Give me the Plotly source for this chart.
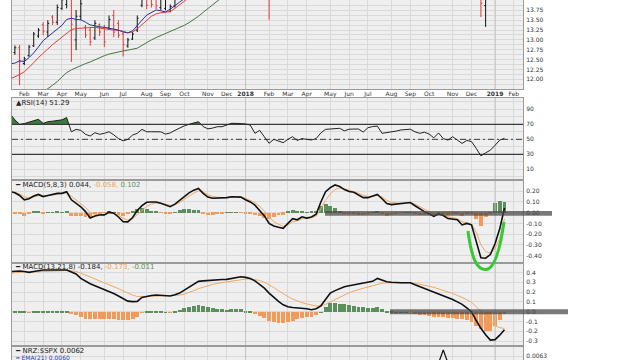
import numpy as np
import pandas as pd
import plotly.graph_objects as go

# ---------------- data (weekly bars, Monday-dated) ----------------
weeks = pd.date_range("2017-01-09", periods=107, freq="W-MON")

bar_open = [12.50, 12.65, 12.68, 12.80, 12.40, 12.60, 12.85, 13.10, 13.38, 13.20, 13.58, 13.45,
            13.80, 13.90, 14.08, 13.00, 13.60, 13.32, 13.25, 13.05, 13.38, 13.30, 13.30, 13.62,
            13.42, 13.15, 12.85, 13.02, 13.25, 13.88, 14.05, 14.06, 14.05, 13.82, 13.80, 13.72, 13.86, 14.08,
            14.30, 14.50, 14.65, 14.85, 15.00, 14.70, 14.60, 14.80, 14.85, 14.90, 15.05, 15.15, 15.20, 15.25, 15.10, 14.90, 14.50, 14.70,
            14.25, 14.10, 14.50, 14.35, 14.20, 14.50, 14.60, 14.40, 14.60, 14.45, 14.50, 14.75, 15.15, 15.45, 15.50, 15.55, 15.45, 15.35,
            15.55, 15.50, 15.45, 15.30, 15.65, 15.75, 15.85, 15.50, 15.55, 15.60, 15.75, 15.85, 15.95, 15.90, 15.70, 15.60, 15.65, 15.50,
            15.30, 15.55, 15.25, 15.10, 15.35, 15.15, 14.90, 15.10, 14.95, 14.60, 13.87, 14.20, 14.60, 15.00, 15.20]
bar_high = [12.75, 12.90, 12.86, 12.87, 12.57, 12.87, 13.20, 13.30, 13.45, 13.50, 13.63, 13.90,
            14.10, 14.20, 14.20, 13.76, 14.05, 13.38, 13.30, 13.50, 13.42, 13.38, 13.62, 13.76,
            13.50, 13.20, 13.05, 13.20, 13.62, 14.10, 14.12, 14.15, 14.10, 14.20, 14.15, 13.90, 14.10, 14.35,
            14.55, 14.70, 14.90, 15.10, 15.05, 14.85, 14.90, 14.95, 15.00, 15.15, 15.25, 15.30, 15.35, 15.40, 15.20, 15.00, 14.80, 14.75,
            14.40, 14.60, 14.60, 14.45, 14.60, 14.70, 14.65, 14.70, 14.65, 14.60, 14.80, 15.20, 15.50, 15.60, 15.65, 15.60, 15.55, 15.60,
            15.65, 15.60, 15.50, 15.70, 15.80, 15.90, 15.90, 15.65, 15.70, 15.80, 15.90, 16.00, 16.05, 15.95, 15.80, 15.75, 15.70, 15.55,
            15.60, 15.60, 15.35, 15.40, 15.45, 15.20, 15.20, 15.15, 15.00, 14.70, 14.30, 14.70, 15.10, 15.30, 15.40]
bar_low = [12.35, 12.55, 12.62, 11.85, 12.36, 12.57, 12.82, 13.05, 13.12, 13.07, 13.38, 13.38,
           13.76, 13.80, 12.44, 12.74, 13.50, 13.05, 12.85, 13.00, 13.10, 12.82, 13.25, 13.07,
           13.05, 12.58, 12.80, 13.00, 13.20, 13.83, 13.78, 13.82, 13.78, 13.75, 13.75, 13.70, 13.82, 14.05,
           14.20, 14.40, 14.55, 14.75, 14.60, 14.45, 14.50, 14.60, 14.70, 14.80, 14.95, 15.00, 15.05, 15.00, 14.80, 14.40, 14.30, 14.10,
           13.51, 14.05, 14.20, 14.10, 14.15, 14.35, 14.30, 14.35, 14.35, 14.30, 14.45, 14.70, 15.10, 15.30, 15.35, 15.35, 15.25, 15.30,
           15.40, 15.35, 15.20, 15.25, 15.55, 15.65, 15.40, 15.40, 15.45, 15.50, 15.65, 15.75, 15.80, 15.60, 15.50, 15.45, 15.40, 15.20,
           15.20, 15.20, 15.00, 15.00, 15.05, 14.80, 14.85, 14.80, 14.45, 13.58, 13.33, 14.10, 14.55, 14.90, 15.10]
bar_close = [12.65, 12.70, 12.80, 12.45, 12.52, 12.82, 13.15, 13.25, 13.22, 13.42, 13.45, 13.82,
             14.02, 14.10, 13.40, 13.60, 13.92, 13.12, 12.95, 13.42, 13.20, 12.95, 13.52, 13.20,
             13.12, 12.88, 13.00, 13.15, 13.55, 14.05, 13.88, 13.90, 13.86, 14.10, 14.05, 13.85, 14.05, 14.30,
             14.50, 14.65, 14.85, 15.00, 14.70, 14.60, 14.80, 14.85, 14.90, 15.05, 15.15, 15.20, 15.25, 15.10, 14.90, 14.50, 14.70, 14.25,
             14.10, 14.50, 14.35, 14.20, 14.50, 14.60, 14.40, 14.60, 14.45, 14.50, 14.75, 15.15, 15.45, 15.50, 15.55, 15.45, 15.35, 15.55,
             15.50, 15.45, 15.30, 15.65, 15.75, 15.85, 15.50, 15.55, 15.60, 15.75, 15.85, 15.95, 15.90, 15.70, 15.60, 15.65, 15.50, 15.30,
             15.55, 15.25, 15.10, 15.35, 15.15, 14.90, 15.10, 14.95, 14.60, 13.93, 14.20, 14.60, 15.00, 15.20, 15.30]
ema_fast = [12.38, 12.40, 12.41, 12.47, 12.45, 12.55, 12.67, 12.82, 12.98, 13.08, 13.17, 13.27,
            13.37, 13.52, 13.55, 13.52, 13.51, 13.45, 13.38, 13.36, 13.33, 13.32, 13.30, 13.28,
            13.25, 13.20, 13.18, 13.23, 13.38, 13.50, 13.63, 13.70, 13.76, 13.74, 13.71, 13.78, 13.86, 13.96,
            14.05, 14.15, 14.30, 14.42, 14.50, 14.55, 14.60, 14.65, 14.70, 14.78, 14.88, 14.98, 15.05, 15.07, 15.03, 14.92, 14.82, 14.70,
            14.55, 14.50, 14.45, 14.40, 14.40, 14.45, 14.45, 14.48, 14.50, 14.50, 14.56, 14.70, 14.90, 15.10, 15.25, 15.35, 15.38, 15.42,
            15.45, 15.46, 15.42, 15.48, 15.58, 15.66, 15.64, 15.60, 15.58, 15.62, 15.68, 15.76, 15.82, 15.82, 15.76, 15.70, 15.64, 15.54,
            15.52, 15.45, 15.35, 15.33, 15.28, 15.18, 15.15, 15.10, 14.95, 14.65, 14.48, 14.50, 14.62, 14.78, 14.92]
ema_slow = [11.95, 12.00, 12.06, 12.12, 12.19, 12.30, 12.42, 12.55, 12.65, 12.77, 12.88, 12.97,
            13.07, 13.17, 13.26, 13.29, 13.30, 13.31, 13.32, 13.32, 13.30, 13.28, 13.26, 13.25,
            13.24, 13.22, 13.18, 13.20, 13.28, 13.38, 13.50, 13.60, 13.66, 13.69, 13.70, 13.72, 13.80, 13.90,
            14.00, 14.08, 14.18, 14.30, 14.38, 14.44, 14.49, 14.54, 14.59, 14.65, 14.72, 14.80, 14.87, 14.92, 14.93, 14.88, 14.81, 14.73,
            14.62, 14.57, 14.52, 14.47, 14.44, 14.45, 14.45, 14.47, 14.48, 14.49, 14.53, 14.63, 14.78, 14.95, 15.10, 15.21, 15.27, 15.33,
            15.37, 15.40, 15.39, 15.43, 15.50, 15.58, 15.59, 15.58, 15.58, 15.60, 15.65, 15.71, 15.76, 15.78, 15.75, 15.71, 15.66, 15.58,
            15.55, 15.49, 15.41, 15.38, 15.33, 15.25, 15.21, 15.16, 15.04, 14.80, 14.62, 14.58, 14.64, 14.75, 14.86]
sma_long = [11.20, 11.28, 11.35, 11.42, 11.48, 11.54, 11.60, 11.66, 11.71, 11.76, 11.85, 11.94,
            12.06, 12.17, 12.24, 12.30, 12.35, 12.40, 12.44, 12.50, 12.55, 12.60, 12.64, 12.67,
            12.70, 12.72, 12.74, 12.76, 12.79, 12.86, 12.94, 13.00, 13.06, 13.11, 13.15, 13.20, 13.26, 13.31,
            13.37, 13.44, 13.51, 13.60, 13.70, 13.80, 13.89, 13.98, 14.08, 14.15, 14.22, 14.28, 14.34, 14.40, 14.45, 14.48, 14.50, 14.52,
            14.53, 14.54, 14.55, 14.56, 14.57, 14.58, 14.59, 14.60, 14.61, 14.62, 14.64, 14.66, 14.69, 14.72, 14.76, 14.80, 14.84, 14.88,
            14.92, 14.96, 15.00, 15.04, 15.08, 15.12, 15.16, 15.20, 15.24, 15.28, 15.32, 15.36, 15.40, 15.43, 15.46, 15.48, 15.50, 15.52,
            15.53, 15.54, 15.54, 15.54, 15.53, 15.52, 15.50, 15.48, 15.45, 15.40, 15.36, 15.33, 15.31, 15.30, 15.29]
rsi14 = [82, 84, 76, 70, 71, 73, 75.7, 76.7, 71.3, 73.5, 74.2, 75,
         76, 79, 60, 63.3, 62, 56.7, 54.4, 58.8, 56.7, 58, 60.1, 56,
         51, 48, 50, 55.7, 58, 63.3, 60.1, 60.1, 60.1, 60, 57, 58.5, 62, 65.5,
         68, 70, 72, 73.5, 67, 64, 65, 66.8, 66.8, 69.5, 71.3, 71.3, 71.3, 70.5, 69, 58, 62, 53,
         44.7, 50, 48.1, 45.5, 50, 53.5, 48.5, 51, 50, 49.1, 51, 58.5, 63.3, 64.1, 64.5, 64.7, 61.3, 63.5,
         63.7, 63.7, 59.7, 65.5, 67, 67.7, 58, 58.7, 59.3, 61, 62.5, 63.5, 63.5, 60, 58, 59.5, 57, 52,
         58.5, 51, 49, 53.5, 49, 44.5, 48.5, 47, 38, 28, 32, 35.5, 42, 49, 51.29]
macd_fast = [0.21, 0.20, 0.185, 0.16, 0.12, 0.13, 0.155, 0.17, 0.15, 0.16, 0.168, 0.18,
             0.18, 0.195, 0.12, 0.085, 0.055, 0.01, -0.05, -0.03, -0.021, -0.02, 0.005, -0.005,
             -0.04, -0.084, -0.085, -0.045, 0.02, 0.065, 0.097, 0.10, 0.10, 0.088, 0.07, 0.056, 0.08, 0.115,
             0.155, 0.185, 0.21, 0.225, 0.18, 0.145, 0.134, 0.134, 0.134, 0.14, 0.149, 0.149, 0.145, 0.12, 0.10, 0.07, 0.025, -0.03,
             -0.10, -0.123, -0.135, -0.145, -0.10, -0.055, -0.066, -0.038, -0.05, -0.04, -0.015, 0.10, 0.195, 0.233, 0.258, 0.243, 0.215, 0.197,
             0.19, 0.165, 0.14, 0.14, 0.155, 0.17, 0.13, 0.085, 0.075, 0.08, 0.086, 0.096, 0.095, 0.065, 0.035, 0.01, -0.01, -0.035,
             -0.01, -0.027, -0.055, -0.06, -0.065, -0.114, -0.10, -0.113, -0.26, -0.42, -0.424, -0.39, -0.29, -0.15, 0.044]
macd_fast_signal = [0.20, 0.20, 0.19, 0.175, 0.148, 0.139, 0.147, 0.158, 0.154, 0.157, 0.163, 0.171,
                    0.176, 0.185, 0.153, 0.119, 0.087, 0.048, 0.0, -0.015, -0.018, -0.019, -0.007, -0.006,
                    -0.023, -0.053, -0.069, -0.057, -0.019, 0.023, 0.06, 0.08, 0.09, 0.089, 0.08, 0.068, 0.074, 0.094,
                    0.125, 0.155, 0.182, 0.204, 0.192, 0.168, 0.151, 0.143, 0.138, 0.139, 0.144, 0.147, 0.146, 0.133, 0.116, 0.093, 0.059, 0.015,
                    -0.043, -0.083, -0.109, -0.127, -0.113, -0.084, -0.075, -0.057, -0.053, -0.047, -0.031, 0.035, 0.115, 0.174, 0.216, 0.23, 0.222, 0.21,
                    0.20, 0.182, 0.161, 0.151, 0.153, 0.161, 0.146, 0.115, 0.095, 0.088, 0.087, 0.091, 0.093, 0.079, 0.057, 0.034, 0.012, -0.012,
                    -0.011, -0.019, -0.037, -0.048, -0.057, -0.085, -0.093, -0.103, -0.181, -0.30, -0.362, -0.376, -0.333, -0.242, -0.058]
macd_fast_hist = [0.01, 0.0, -0.005, -0.015, -0.028, -0.009, 0.008, 0.012, -0.004, 0.003, 0.005, 0.009,
                  0.004, 0.01, -0.033, -0.034, -0.032, -0.038, -0.05, -0.015, -0.003, -0.001, 0.012, 0.001,
                  -0.017, -0.031, -0.016, 0.012, 0.039, 0.042, 0.037, 0.02, 0.01, -0.001, -0.01, -0.012, 0.006, 0.021,
                  0.03, 0.03, 0.028, 0.021, -0.012, -0.023, -0.017, -0.009, -0.004, 0.001, 0.005, 0.002, -0.001, -0.013, -0.016, -0.023, -0.034, -0.045,
                  -0.057, -0.04, -0.026, -0.018, 0.013, 0.029, 0.009, 0.019, 0.003, 0.007, 0.016, 0.065, 0.08, 0.059, 0.042, 0.013, -0.007, -0.013,
                  -0.01, -0.017, -0.021, -0.011, 0.002, 0.009, -0.016, -0.03, -0.02, -0.008, -0.001, 0.005, 0.002, -0.014, -0.022, -0.024, -0.022, -0.023,
                  0.001, -0.008, -0.018, -0.012, -0.008, -0.029, -0.007, -0.01, -0.06, -0.12, -0.04, -0.014, 0.087, 0.109, 0.102]
macd_slow = [0.405, 0.408, 0.41, 0.415, 0.41, 0.402, 0.41, 0.42, 0.425, 0.425, 0.425, 0.425,
             0.425, 0.425, 0.405, 0.385, 0.34, 0.31, 0.285, 0.265, 0.245, 0.23, 0.21, 0.185,
             0.16, 0.13, 0.108, 0.103, 0.105, 0.145, 0.158, 0.165, 0.17, 0.168, 0.163, 0.16, 0.172, 0.19,
             0.22, 0.25, 0.28, 0.31, 0.315, 0.32, 0.323, 0.325, 0.328, 0.33, 0.34, 0.35, 0.357, 0.35, 0.338, 0.315, 0.28, 0.24,
             0.19, 0.145, 0.105, 0.07, 0.05, 0.042, 0.04, 0.036, 0.03, 0.02, 0.03, 0.06, 0.13, 0.19, 0.215, 0.238, 0.255, 0.265,
             0.273, 0.282, 0.29, 0.295, 0.31, 0.34, 0.325, 0.306, 0.30, 0.296, 0.296, 0.296, 0.295, 0.275, 0.256, 0.24, 0.22, 0.203,
             0.185, 0.165, 0.148, 0.125, 0.10, 0.075, 0.04, 0.0, -0.09, -0.17, -0.235, -0.29, -0.285, -0.24, -0.184]
macd_slow_signal = [0.39, 0.395, 0.398, 0.402, 0.404, 0.403, 0.405, 0.408, 0.412, 0.415, 0.417, 0.419,
                    0.42, 0.421, 0.417, 0.41, 0.394, 0.375, 0.355, 0.335, 0.315, 0.296, 0.277, 0.256,
                    0.235, 0.212, 0.189, 0.17, 0.155, 0.153, 0.154, 0.156, 0.159, 0.161, 0.161, 0.161, 0.163, 0.169,
                    0.18, 0.195, 0.214, 0.235, 0.252, 0.267, 0.279, 0.289, 0.297, 0.304, 0.312, 0.32, 0.328, 0.333, 0.334, 0.33, 0.319, 0.301,
                    0.276, 0.246, 0.215, 0.183, 0.154, 0.129, 0.109, 0.093, 0.079, 0.066, 0.058, 0.058, 0.074, 0.10, 0.125, 0.15, 0.173, 0.193,
                    0.211, 0.227, 0.241, 0.253, 0.265, 0.282, 0.291, 0.294, 0.295, 0.295, 0.295, 0.295, 0.295, 0.29, 0.282, 0.272, 0.26, 0.248,
                    0.234, 0.219, 0.203, 0.186, 0.167, 0.147, 0.123, 0.096, 0.055, 0.005, -0.048, -0.10, -0.14, -0.162, -0.173]
macd_slow_hist = [0.015, 0.013, 0.012, 0.013, 0.006, -0.001, 0.005, 0.012, 0.013, 0.01, 0.008, 0.006,
                  0.005, 0.004, -0.012, -0.025, -0.054, -0.065, -0.07, -0.07, -0.07, -0.066, -0.067, -0.071,
                  -0.075, -0.082, -0.081, -0.067, -0.05, -0.008, 0.004, 0.009, 0.011, 0.007, 0.002, -0.001, 0.009, 0.021,
                  0.04, 0.055, 0.066, 0.075, 0.063, 0.053, 0.044, 0.036, 0.031, 0.026, 0.028, 0.03, 0.029, 0.017, 0.004, -0.015, -0.039, -0.061,
                  -0.086, -0.101, -0.11, -0.113, -0.104, -0.087, -0.069, -0.057, -0.049, -0.046, -0.028, 0.002, 0.056, 0.09, 0.09, 0.088, 0.082, 0.072,
                  0.062, 0.055, 0.049, 0.042, 0.045, 0.058, 0.034, 0.012, 0.005, 0.001, 0.001, 0.001, 0.0, -0.015, -0.026, -0.032, -0.04, -0.045,
                  -0.049, -0.054, -0.055, -0.061, -0.067, -0.072, -0.083, -0.096, -0.145, -0.175, -0.187, -0.19, -0.145, -0.078, -0.011]
ratio_spx = [0.00585, 0.00588, 0.00590, 0.00586, 0.00592, 0.00595, 0.00598, 0.00600, 0.00597, 0.00601, 0.00599, 0.00602,
             0.00605, 0.00606, 0.00598, 0.00600, 0.00603, 0.00596, 0.00592, 0.00595, 0.00593, 0.00590, 0.00594, 0.00591,
             0.00588, 0.00586, 0.00582, 0.00585, 0.00588, 0.00591, 0.00589, 0.00587, 0.00590, 0.00588, 0.00585, 0.00586, 0.00589, 0.00590,
             0.00588, 0.00587, 0.00590, 0.00592, 0.00589, 0.00585, 0.00587, 0.00588, 0.00586, 0.00590, 0.00588, 0.00585, 0.00583, 0.00575,
             0.00568, 0.00572, 0.00580, 0.00585, 0.00592, 0.00590, 0.00588, 0.00594, 0.00598, 0.00596, 0.00595, 0.00599, 0.00597, 0.00602,
             0.00600, 0.00598, 0.00596, 0.00599, 0.00601, 0.00603, 0.00600,
             0.00602, 0.00600, 0.00598, 0.00595, 0.00597, 0.00594, 0.00596, 0.00598, 0.00600, 0.00596, 0.00593, 0.00590, 0.00588,
             0.00592, 0.00598, 0.00604, 0.00610, 0.00615, 0.00612, 0.00623, 0.00636, 0.00623, 0.00612, 0.00605, 0.00610, 0.00606,
             0.00612, 0.00608, 0.00611, 0.00607, 0.00604, 0.00610, 0.00616, 0.00620]
ratio_ema21 = [0.00586, 0.00587, 0.00588, 0.00588, 0.00589, 0.00590, 0.00591, 0.00592, 0.00593, 0.00594, 0.00595, 0.00596,
               0.00597, 0.00598, 0.00598, 0.00598, 0.00598, 0.00598, 0.00597, 0.00597, 0.00596, 0.00596, 0.00595, 0.00595,
               0.00594, 0.00593, 0.00592, 0.00591, 0.00591, 0.00590, 0.00590, 0.00590, 0.00590, 0.00589, 0.00589, 0.00589, 0.00589, 0.00589,
               0.00589, 0.00589, 0.00589, 0.00589, 0.00589, 0.00589, 0.00588, 0.00588, 0.00588, 0.00588, 0.00588, 0.00588, 0.00587, 0.00586,
               0.00584, 0.00583, 0.00583, 0.00583, 0.00584, 0.00584, 0.00585, 0.00586, 0.00587, 0.00588, 0.00589, 0.00590, 0.00590, 0.00591,
               0.00592, 0.00592, 0.00593, 0.00593, 0.00594, 0.00595, 0.00595,
               0.00596, 0.00596, 0.00596, 0.00596, 0.00596, 0.00596, 0.00596, 0.00596, 0.00596, 0.00596, 0.00596, 0.00595, 0.00595,
               0.00595, 0.00595, 0.00596, 0.00597, 0.00598, 0.00599, 0.00601, 0.00604, 0.00605, 0.00605, 0.00605, 0.00605, 0.00605,
               0.00606, 0.00606, 0.00606, 0.00606, 0.00605, 0.00605, 0.00606, 0.00604]

month_ticks = ["2017-02-06", "2017-03-06", "2017-04-03", "2017-05-01", "2017-06-05", "2017-07-03",
               "2017-08-07", "2017-09-04", "2017-10-02", "2017-11-06", "2017-12-04", "2018-01-01",
               "2018-02-05", "2018-03-05", "2018-04-02", "2018-05-07", "2018-06-04", "2018-07-02",
               "2018-08-06", "2018-09-03", "2018-10-01", "2018-11-05", "2018-12-03", "2019-01-07", "2019-02-04"]
month_labels = ["Feb", "Mar", "Apr", "May", "Jun", "Jul", "Aug", "Sep", "Oct", "Nov", "Dec", "<b>2018</b>",
                "Feb", "Mar", "Apr", "May", "Jun", "Jul", "Aug", "Sep", "Oct", "Nov", "Dec", "<b>2019</b>", "Feb"]
year_ticks = ["2018-01-01", "2019-01-07"]
price_ticks = [12.00, 12.25, 12.50, 12.75, 13.00, 13.25, 13.50, 13.75, 14.00]
price_labels = ["12.00", "12.25", "12.50", "12.75", "13.00", "13.25", "13.50", "13.75", "14.00"]
rsi_ticks = [10, 30, 50, 70, 90]
rsi_levels = [30, 50, 70]
macd_fast_ticks = [0.2, 0.1, 0.0, -0.1, -0.2, -0.3, -0.4]
macd_fast_labels = ["0.20", "0.10", "0.00", "-0.10", "-0.20", "-0.30", "-0.40"]
macd_slow_ticks = [0.4, 0.3, 0.2, 0.1, 0.0, -0.1, -0.2, -0.3]
macd_slow_labels = ["0.4", "0.3", "0.2", "0.1", "0.0", "-0.1", "-0.2", "-0.3"]
ratio_ticks = [0.0063]
ratio_labels = ["0.0063"]

for arr in [bar_open, bar_high, bar_low, bar_close, ema_fast, ema_slow, sma_long, rsi14, macd_fast,
            macd_fast_signal, macd_fast_hist, macd_slow, macd_slow_signal, macd_slow_hist, ratio_spx, ratio_ema21]:
    assert len(arr) == len(weeks), len(arr)

# ---------------- styling ----------------
W, H = 640, 360
FONT = "DejaVu Sans"
BG = "#efefef"
GRID = "#d9d9d9"
BORDER = "#9a9a9a"
TXT = "#333333"
UP, DOWN = "#111111", "#e23b3b"
HIST_UP, HIST_DN = "#5b8f5b", "#f29a5a"
SIG = "#f0a864"


def fx(p):
    return p / W


def fy(p):
    return 1 - p / H


x_dom = [fx(12), fx(523)]
x_range = ["2017-01-18 17:00", "2019-02-17 14:00"]
panels = [(0, 89), (98, 179), (181, 262), (263.5, 345), (347, 360)]
ranges = [[11.754, 14.013], [-2.9, 105.1], [-0.459, 0.295], [-0.340, 0.492], [0.00626, 0.00639]]
axis_ids = ["", "2", "3", "4", "5"]

fig = go.Figure()

# darker year separators in every panel (drawn first, under the data)
for k, sx in enumerate(axis_ids):
    for d in year_ticks:
        fig.add_trace(go.Scatter(x=[d, d], y=ranges[k], mode="lines", line=dict(color="#c4c4c4", width=1),
                                 xaxis="x" + sx, yaxis="y" + sx, hoverinfo="skip"))

# price panel
fig.add_trace(go.Ohlc(x=weeks, open=bar_open, high=bar_high, low=bar_low, close=bar_close,
                      increasing=dict(line=dict(color=UP, width=1)),
                      decreasing=dict(line=dict(color=DOWN, width=1)),
                      tickwidth=0.3, xaxis="x", yaxis="y", hoverinfo="skip"))
fig.add_trace(go.Scatter(x=weeks, y=sma_long, mode="lines", line=dict(color="#4a714a", width=1), xaxis="x", yaxis="y"))
fig.add_trace(go.Scatter(x=weeks, y=ema_slow, mode="lines", line=dict(color="#e23b3b", width=1), xaxis="x", yaxis="y"))
fig.add_trace(go.Scatter(x=weeks, y=ema_fast, mode="lines", line=dict(color="#26339a", width=1), xaxis="x", yaxis="y"))

# RSI panel: shade the part above 70
rsi = np.array(rsi14, dtype=float)
t = weeks.values.astype("datetime64[ns]").astype("int64").astype(float)
fill_t, fill_y = [], []
for i in range(len(rsi)):
    if i > 0 and (rsi[i - 1] - 70) * (rsi[i] - 70) < 0:
        f = (70 - rsi[i - 1]) / (rsi[i] - rsi[i - 1])
        fill_t.append(t[i - 1] + f * (t[i] - t[i - 1]))
        fill_y.append(70)
    fill_t.append(t[i])
    fill_y.append(max(rsi[i], 70))
fill_x = pd.to_datetime(np.array(fill_t).astype("int64"))
fig.add_trace(go.Scatter(x=fill_x, y=[70] * len(fill_x), mode="lines", line=dict(width=0), xaxis="x2", yaxis="y2"))
fig.add_trace(go.Scatter(x=fill_x, y=fill_y, mode="lines", line=dict(width=0), fill="tonexty",
                         fillcolor="#3d7a3d", xaxis="x2", yaxis="y2"))
for lv in rsi_levels:
    fig.add_trace(go.Scatter(x=x_range, y=[lv, lv], mode="lines",
                             line=dict(color="#3a3a3a", width=1.2 if lv != 50 else 1,
                                       dash="6px,3px,2px,3px" if lv == 50 else "solid"),
                             xaxis="x2", yaxis="y2", hoverinfo="skip"))
fig.add_trace(go.Scatter(x=weeks, y=rsi14, mode="lines", line=dict(color="#222222", width=1), xaxis="x2", yaxis="y2"))

BAR_W = 7 * 24 * 3600 * 1000 * 0.82

# MACD(5,8,3)
fig.add_trace(go.Bar(x=weeks, y=macd_fast_hist, width=BAR_W,
                     marker=dict(color=[HIST_UP if v >= 0 else HIST_DN for v in macd_fast_hist], line=dict(width=0)),
                     xaxis="x3", yaxis="y3"))
fig.add_trace(go.Scatter(x=weeks, y=macd_fast_signal, mode="lines", line=dict(color=SIG, width=1), xaxis="x3", yaxis="y3"))
fig.add_trace(go.Scatter(x=weeks, y=macd_fast, mode="lines", line=dict(color="#111111", width=1.6), xaxis="x3", yaxis="y3"))

# MACD(13,21,8)
fig.add_trace(go.Bar(x=weeks, y=macd_slow_hist, width=BAR_W,
                     marker=dict(color=[HIST_UP if v >= 0 else HIST_DN for v in macd_slow_hist], line=dict(width=0)),
                     xaxis="x4", yaxis="y4"))
fig.add_trace(go.Scatter(x=weeks, y=macd_slow_signal, mode="lines", line=dict(color=SIG, width=1), xaxis="x4", yaxis="y4"))
fig.add_trace(go.Scatter(x=weeks, y=macd_slow, mode="lines", line=dict(color="#111111", width=1.6), xaxis="x4", yaxis="y4"))

# NRZ:$SPX ratio
fig.add_trace(go.Scatter(x=weeks, y=ratio_ema21, mode="lines", line=dict(color="#2a3fb0", width=1), xaxis="x5", yaxis="y5"))
fig.add_trace(go.Scatter(x=weeks, y=ratio_spx, mode="lines", line=dict(color="#111111", width=1.2), xaxis="x5", yaxis="y5"))

# ---------------- axes ----------------
tickfont = dict(family=FONT, size=6, color=TXT)
common_x = dict(type="date", range=x_range, domain=x_dom, tickvals=month_ticks, ticktext=month_labels,
                showgrid=True, gridcolor=GRID, gridwidth=1, zeroline=False, showline=True,
                linecolor=BORDER, linewidth=1, ticks="", tickfont=tickfont)
ytv = [(price_ticks, price_labels), (rsi_ticks, [str(v) for v in rsi_ticks]),
       (macd_fast_ticks, macd_fast_labels), (macd_slow_ticks, macd_slow_labels), (ratio_ticks, ratio_labels)]
minor_grid = [dict(dtick=0.125, showgrid=True, gridcolor=GRID), dict(dtick=10, showgrid=True, gridcolor=GRID),
              dict(dtick=0.05, showgrid=False), dict(dtick=0.05, showgrid=False), dict(showgrid=False)]

layout_axes = {}
for k, sx in enumerate(axis_ids):
    xa = dict(common_x, anchor="y" + sx)
    if k == 0:
        xa.update(showticklabels=True, rangeslider=dict(visible=False), mirror=False, ticklabelstandoff=-1)
    else:
        xa.update(showticklabels=False, matches="x", mirror=True, rangeslider=dict(visible=False))
    layout_axes["xaxis" + sx] = xa
    top, bot = panels[k]
    tv, tt = ytv[k]
    layout_axes["yaxis" + sx] = dict(domain=[fy(bot), fy(top)], range=ranges[k], side="right", anchor="x" + sx,
                                     tickvals=tv, ticktext=tt, showgrid=True, gridcolor=GRID, zeroline=False,
                                     showline=True, mirror=True, linecolor=BORDER, linewidth=1, ticks="",
                                     tickfont=tickfont, ticklabelstandoff=1, minor=minor_grid[k])

shapes = []
# hand-drawn highlight bars on the zero lines
shapes.append(dict(type="rect", xref="paper", yref="paper", x0=fx(325), x1=fx(552), y0=fy(215.8), y1=fy(211),
                   fillcolor="rgba(70,70,70,0.72)", line=dict(width=0), layer="above"))
shapes.append(dict(type="rect", xref="paper", yref="paper", x0=fx(390), x1=fx(568), y0=fy(314.3), y1=fy(309.3),
                   fillcolor="rgba(70,70,70,0.72)", line=dict(width=0), layer="above"))
# hand-drawn green U
u_pts = [(468, 231), (472, 262), (478, 270), (486, 269.5), (494, 269), (500, 250), (504, 222)]
p = [(fx(a), fy(b)) for a, b in u_pts]
u_path = "M {:.5f},{:.5f} C {:.5f},{:.5f} {:.5f},{:.5f} {:.5f},{:.5f} C {:.5f},{:.5f} {:.5f},{:.5f} {:.5f},{:.5f}".format(
    *[c for pt in p for c in pt])
shapes.append(dict(type="path", xref="paper", yref="paper", path=u_path, line=dict(color="#36c936", width=3),
                   layer="above"))

lab = dict(family=FONT, size=7, color="#222222")
annotations = [
    dict(x=fx(14), y=fy(103.5), text="\u25b2RSI(14) 51.29"),
    dict(x=fx(13), y=fy(185), text="\u2501 MACD(5,8,3) 0.044, <span style='color:#f0a050'>-0.058,</span> "
                                   "<span style='color:#5b8f5b'>0.102</span>"),
    dict(x=fx(13), y=fy(267), text="\u2501 MACD(13,21,8) -0.184, <span style='color:#f0a050'>-0.173,</span> "
                                   "<span style='color:#5b8f5b'>-0.011</span>"),
    dict(x=fx(13), y=fy(350.5), text="\u2501 NRZ:$SPX 0.0062"),
    dict(x=fx(13), y=fy(357.5), text="<span style='color:#2a3fb0'>\u2501 EMA(21) 0.0060</span>",
         font=dict(family=FONT, size=6, color="#2a3fb0")),
]
for a in annotations:
    a.setdefault("font", lab)
    a.update(xref="paper", yref="paper", xanchor="left", yanchor="middle", showarrow=False)

fig.update_layout(width=W, height=H, margin=dict(l=0, r=0, t=0, b=0), paper_bgcolor="white", plot_bgcolor=BG,
                  showlegend=False, bargap=0, shapes=shapes, annotations=annotations,
                  font=dict(family=FONT, size=7, color=TXT), **layout_axes)

fig.write_html("out.html")
